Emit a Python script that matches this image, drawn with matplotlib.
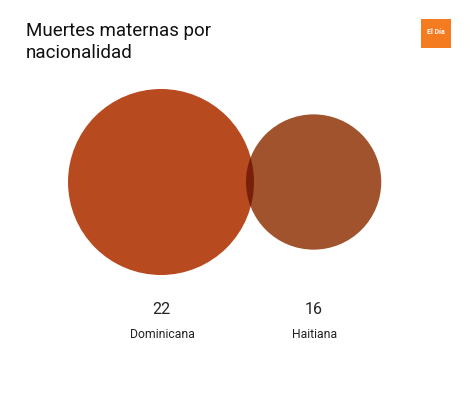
import matplotlib
matplotlib.use("Agg")
import matplotlib.pyplot as plt
from matplotlib.patches import Circle, Rectangle

# --- data ---
nationalities = ["Dominicana", "Haitiana"]
deaths = [22, 16]
colors = ["#B84A20", "#A0532C"]
overlap_color = "#7A1F0C"

W, H = 474, 395
fig = plt.figure(figsize=(W / 100, H / 100), dpi=100)
ax = fig.add_axes([0, 0, 1, 1])
ax.set_xlim(0, W)
ax.set_ylim(H, 0)
ax.axis("off")

plt.rcParams["font.family"] = ["Roboto", "DejaVu Sans"]

# radius proportional to value
px_per_unit = 93 / 22
radii = [v * px_per_unit for v in deaths]
cy = 182
left = 68
overlap = 8
cx = [left + radii[0], left + 2 * radii[0] + radii[1] - overlap]

circles = []
for x, r, c in zip(cx, radii, colors):
    p = Circle((x, cy), r, facecolor=c, edgecolor="none")
    ax.add_patch(p)
    circles.append(p)

# intersection
inter = Circle((cx[1], cy), radii[1], facecolor=overlap_color, edgecolor="none")
ax.add_patch(inter)
inter.set_clip_path(circles[0])

for x, v, name in zip(cx, deaths, nationalities):
    ax.text(x, 310, str(v), ha="center", va="center", fontsize=11.5, color="#222222")
    ax.text(x + 1, 334, name, ha="center", va="center", fontsize=8.8, color="#222222")

ax.text(26, 22, "Muertes maternas por\nnacionalidad", ha="left", va="top",
        fontsize=13.5, color="#111111", linespacing=1.3)

# logo
ax.add_patch(Rectangle((421, 19), 30, 29, facecolor="#F47B20", edgecolor="none"))
ax.text(436, 32, "El Día", ha="center", va="center", fontsize=5,
        color="white", fontweight="bold")

fig.savefig("out.png", dpi=100, facecolor="white")
